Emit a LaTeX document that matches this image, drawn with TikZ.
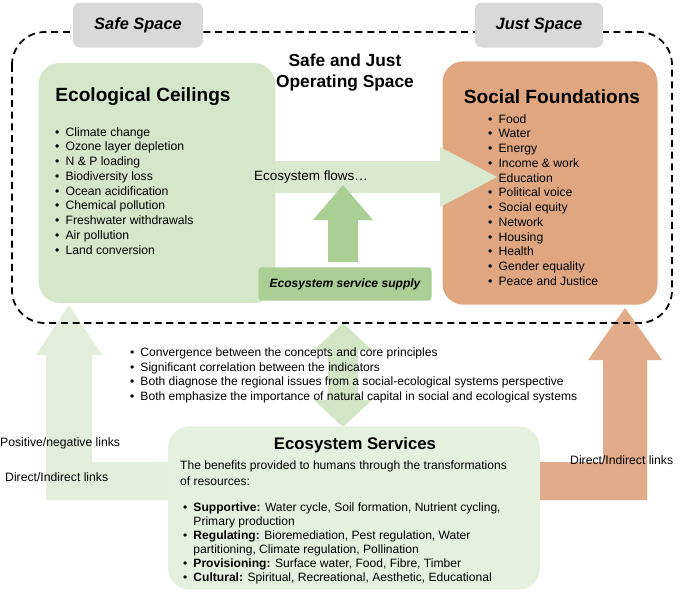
\documentclass[tikz,border=0pt]{standalone}
\usepackage{fontspec}
\setmainfont{Liberation Sans}
\definecolor{gbox}{HTML}{D6E6C8}
\definecolor{obox}{HTML}{DFA680}
\definecolor{garr}{HTML}{A9CF94}
\definecolor{lgarr}{HTML}{E3EEDA}
\definecolor{lgbox}{HTML}{E6F0DF}
\definecolor{gray1}{HTML}{D9D9D9}
\definecolor{oarr}{HTML}{E2AC8A}
\tikzset{
 lst/.style={align=left,anchor=north west,inner sep=0,font=\fontsize{10.4}{12.6}\selectfont},
 ttl/.style={font=\fontsize{16.3}{18}\selectfont\bfseries},
 tag/.style={fill=gray1,rounded corners=6pt,font=\fontsize{14}{16}\selectfont\bfseries\itshape},
}
\begin{document}
\begin{tikzpicture}[x=0.03cm,y=-0.03cm]
\useasboundingbox (0,0) rectangle (685,602);
% arrows behind
\fill[lgarr] (168,462) -- (92,462) -- (92,355) -- (102,355) -- (69,305) -- (36,355) -- (46,355) -- (46,500) -- (168,500) -- cycle;
\fill[oarr] (540,462) -- (603,462) -- (603,360) -- (588,360) -- (625,308) -- (662,360) -- (647,360) -- (647,500) -- (540,500) -- cycle;
\fill[lgarr!70!garr] (343,323) -- (372,350) -- (358,350) -- (358,400) -- (372,400) -- (343,427) -- (314,400) -- (328,400) -- (328,350) -- (314,350) -- cycle;
% main dashed box
\draw[dash pattern=on 6pt off 4pt,line width=1.5pt,rounded corners=28pt] (12,32) rectangle (672,323);
\node[tag,minimum width=3.9cm,minimum height=1.35cm] (ss) at (138,25) {Safe Space};
\node[tag,minimum width=3.85cm,minimum height=1.35cm] (js) at (539,25) {Just Space};
\node[align=center,font=\fontsize{14.8}{18}\selectfont\bfseries] (op) at (345,73) {Safe and Just\\Operating Space};
% ecological ceilings
\node[fill=gbox,rounded corners=18pt,minimum width=7.1cm,minimum height=7.2cm] (ec) at (157,183) {};
\node[ttl] (ect) at (143,97) {Ecological Ceilings};
\node[lst] (ecl) at (55,127) {%
\textbullet\enspace Climate change\\
\textbullet\enspace Ozone layer depletion\\
\textbullet\enspace N \& P loading\\
\textbullet\enspace Biodiversity loss\\
\textbullet\enspace Ocean acidification\\
\textbullet\enspace Chemical pollution\\
\textbullet\enspace Freshwater withdrawals\\
\textbullet\enspace Air pollution\\
\textbullet\enspace Land conversion};
% social foundations
\node[fill=obox,rounded corners=18pt,minimum width=6.45cm,minimum height=7.3cm] (sf) at (550,183) {};
\node[ttl] (sft) at (552,97) {Social Foundations};
\node[lst] (sfl) at (488,114) {%
\textbullet\enspace Food\\
\textbullet\enspace Water\\
\textbullet\enspace Energy\\
\textbullet\enspace Income \& work\\
\textbullet\enspace Education\\
\textbullet\enspace Political voice\\
\textbullet\enspace Social equity\\
\textbullet\enspace Network\\
\textbullet\enspace Housing\\
\textbullet\enspace Health\\
\textbullet\enspace Gender equality\\
\textbullet\enspace Peace and Justice};
% ecosystem flows arrow
\fill[gbox!70!lgarr] (275,161) -- (440,161) -- (440,147) -- (497,177) -- (440,207) -- (440,193) -- (275,193) -- cycle;
\node[anchor=west,font=\fontsize{11.5}{13}\selectfont] (ef) at (250,177) {Ecosystem flows\ldots};
% supply arrow
\fill[garr] (328,262) -- (328,220) -- (313,220) -- (343,185) -- (373,220) -- (358,220) -- (358,262) -- cycle;
\node[fill=garr,rounded corners=3pt,minimum width=5.2cm,minimum height=1.0cm,font=\fontsize{10.3}{12}\selectfont\bfseries\itshape] (sup) at (345,284) {Ecosystem service supply};
% middle bullets
\node[lst,font=\fontsize{10.3}{12.3}\selectfont] (mid) at (130,348) {%
\textbullet\enspace Convergence between the concepts and core principles\\
\textbullet\enspace Significant correlation between the indicators\\
\textbullet\enspace Both diagnose the regional issues from a social-ecological systems perspective\\
\textbullet\enspace Both emphasize the importance of natural capital in social and ecological systems};
% ecosystem services box
\node[fill=lgbox,rounded corners=18pt,minimum width=11.15cm,minimum height=4.9cm] (es) at (354,508) {};
\node[font=\fontsize{14.3}{16}\selectfont\bfseries] (est) at (355,445) {Ecosystem Services};
\node[lst,font=\fontsize{10.3}{13}\selectfont] (esd) at (180,461) {The benefits provided to humans through the transformations\\of resources:};
\node[lst,font=\fontsize{10.3}{11.8}\selectfont] (esl) at (183,503) {%
\textbullet\enspace\textbf{Supportive:} Water cycle, Soil formation, Nutrient cycling,\\
\phantom{\textbullet\enspace}Primary production\\
\textbullet\enspace\textbf{Regulating:} Bioremediation, Pest regulation, Water\\
\phantom{\textbullet\enspace}partitioning, Climate regulation, Pollination\\
\textbullet\enspace\textbf{Provisioning:} Surface water, Food, Fibre, Timber\\
\textbullet\enspace\textbf{Cultural:} Spiritual, Recreational, Aesthetic, Educational};
% labels
\node[anchor=west,inner sep=0,font=\fontsize{10.4}{12}\selectfont] (l1) at (0,443) {Positive/negative links};
\node[anchor=west,inner sep=0,font=\fontsize{10.4}{12}\selectfont] (l2) at (5,477) {Direct/Indirect links};
\node[anchor=west,inner sep=0,font=\fontsize{10.4}{12}\selectfont] (l3) at (570,460) {Direct/Indirect links};
\end{tikzpicture}
\end{document}
